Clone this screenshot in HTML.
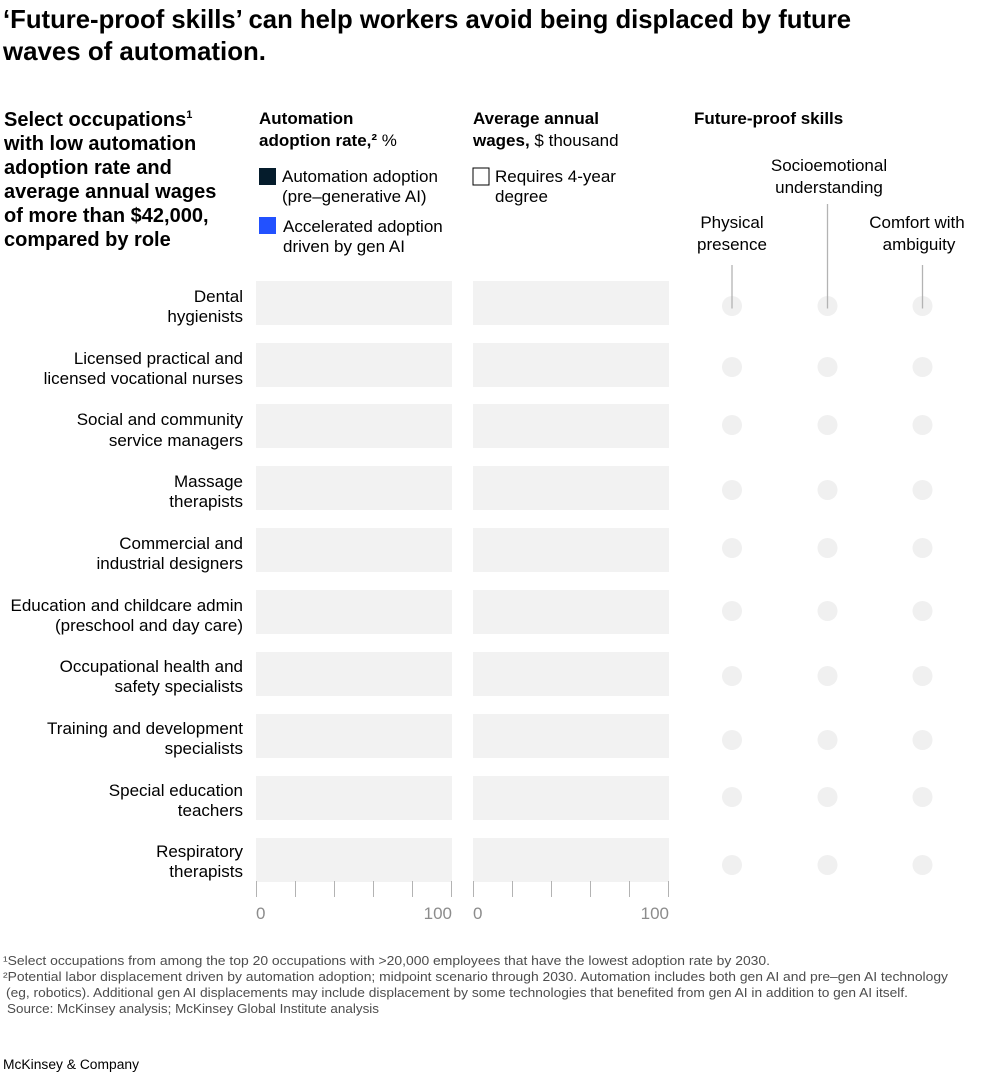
<!DOCTYPE html>
<html>
<head>
<meta charset="utf-8">
<style>
html,body{margin:0;padding:0;background:#fff;}
svg{display:block;}
text{font-family:"Liberation Sans",Arial,sans-serif;}
</style>
</head>
<body>
<svg width="991" height="1080" viewBox="0 0 991 1080" xmlns="http://www.w3.org/2000/svg">
<rect x="0" y="0" width="991" height="1080" fill="#fff"/>

<!-- Title -->
<text x="3" y="28" font-size="26" font-weight="bold" fill="#000" textLength="848" lengthAdjust="spacingAndGlyphs">‘Future-proof skills’ can help workers avoid being displaced by future</text>
<text x="3" y="60" font-size="26" font-weight="bold" fill="#000" textLength="263" lengthAdjust="spacingAndGlyphs">waves of automation.</text>

<!-- Subheading -->
<g font-size="20" font-weight="bold" fill="#000">
<text x="4" y="126">Select occupations<tspan font-size="11" dy="-8">1</tspan></text>
<text x="4" y="150">with low automation</text>
<text x="4" y="174">adoption rate and</text>
<text x="4" y="198">average annual wages</text>
<text x="4" y="222">of more than $42,000,</text>
<text x="4" y="246">compared by role</text>
</g>

<!-- Column headers -->
<g font-size="17" fill="#000">
<text x="259" y="124" font-weight="bold">Automation</text>
<text x="259" y="146"><tspan font-weight="bold">adoption rate,²</tspan> %</text>
<text x="473" y="124" font-weight="bold">Average annual</text>
<text x="473" y="146"><tspan font-weight="bold">wages,</tspan> $ thousand</text>
<text x="694" y="124" font-weight="bold">Future-proof skills</text>
</g>

<!-- Legend -->
<rect x="259" y="168" width="17" height="17" fill="#051c2c"/>
<rect x="259" y="217" width="17" height="17" fill="#2251ff"/>
<rect x="473" y="168" width="16" height="17" fill="#fff" stroke="#000" stroke-width="1"/>
<g font-size="17" fill="#000">
<text x="282" y="182">Automation adoption</text>
<text x="282" y="202">(pre–generative AI)</text>
<text x="283" y="232">Accelerated adoption</text>
<text x="283" y="252">driven by gen AI</text>
<text x="495" y="182">Requires 4-year</text>
<text x="495" y="202">degree</text>
</g>

<!-- Skill labels -->
<g font-size="17" fill="#000" text-anchor="middle">
<text x="829" y="171">Socioemotional</text>
<text x="829" y="193">understanding</text>
<text x="732" y="228">Physical</text>
<text x="732" y="250">presence</text>
<text x="917" y="228">Comfort with</text>
<text x="919" y="250">ambiguity</text>
</g>

<!-- Bars -->
<g fill="#f2f2f2">
<rect x="256" y="281" width="196" height="44"/><rect x="473" y="281" width="196" height="44"/>
<rect x="256" y="343" width="196" height="44"/><rect x="473" y="343" width="196" height="44"/>
<rect x="256" y="404" width="196" height="44"/><rect x="473" y="404" width="196" height="44"/>
<rect x="256" y="466" width="196" height="44"/><rect x="473" y="466" width="196" height="44"/>
<rect x="256" y="528" width="196" height="44"/><rect x="473" y="528" width="196" height="44"/>
<rect x="256" y="590" width="196" height="44"/><rect x="473" y="590" width="196" height="44"/>
<rect x="256" y="652" width="196" height="44"/><rect x="473" y="652" width="196" height="44"/>
<rect x="256" y="714" width="196" height="44"/><rect x="473" y="714" width="196" height="44"/>
<rect x="256" y="776" width="196" height="44"/><rect x="473" y="776" width="196" height="44"/>
<rect x="256" y="838" width="196" height="44"/><rect x="473" y="838" width="196" height="44"/>
</g>

<!-- Circles -->
<g fill="#f0f0f0">
<circle cx="732" cy="306" r="10"/><circle cx="827.5" cy="306" r="10"/><circle cx="922.5" cy="306" r="10"/>
<circle cx="732" cy="367" r="10"/><circle cx="827.5" cy="367" r="10"/><circle cx="922.5" cy="367" r="10"/>
<circle cx="732" cy="425" r="10"/><circle cx="827.5" cy="425" r="10"/><circle cx="922.5" cy="425" r="10"/>
<circle cx="732" cy="490" r="10"/><circle cx="827.5" cy="490" r="10"/><circle cx="922.5" cy="490" r="10"/>
<circle cx="732" cy="548" r="10"/><circle cx="827.5" cy="548" r="10"/><circle cx="922.5" cy="548" r="10"/>
<circle cx="732" cy="611" r="10"/><circle cx="827.5" cy="611" r="10"/><circle cx="922.5" cy="611" r="10"/>
<circle cx="732" cy="676" r="10"/><circle cx="827.5" cy="676" r="10"/><circle cx="922.5" cy="676" r="10"/>
<circle cx="732" cy="740" r="10"/><circle cx="827.5" cy="740" r="10"/><circle cx="922.5" cy="740" r="10"/>
<circle cx="732" cy="797" r="10"/><circle cx="827.5" cy="797" r="10"/><circle cx="922.5" cy="797" r="10"/>
<circle cx="732" cy="865" r="10"/><circle cx="827.5" cy="865" r="10"/><circle cx="922.5" cy="865" r="10"/>
</g>

<!-- Leader lines -->
<g stroke="#b3b3b3" stroke-width="1.3">
<line x1="732" y1="265" x2="732" y2="308.5"/>
<line x1="827.5" y1="204" x2="827.5" y2="308.5"/>
<line x1="922.5" y1="265" x2="922.5" y2="308.5"/>
</g>

<!-- Row labels -->
<g font-size="17" fill="#000" text-anchor="end">
<text x="243" y="302">Dental</text>
<text x="243" y="322">hygienists</text>
<text x="243" y="364">Licensed practical and</text>
<text x="243" y="384">licensed vocational nurses</text>
<text x="243" y="425">Social and community</text>
<text x="243" y="446">service managers</text>
<text x="243" y="487">Massage</text>
<text x="243" y="507">therapists</text>
<text x="243" y="549">Commercial and</text>
<text x="243" y="569">industrial designers</text>
<text x="243" y="611">Education and childcare admin</text>
<text x="243" y="631">(preschool and day care)</text>
<text x="243" y="672">Occupational health and</text>
<text x="243" y="692">safety specialists</text>
<text x="243" y="734">Training and development</text>
<text x="243" y="754">specialists</text>
<text x="243" y="796">Special education</text>
<text x="243" y="816">teachers</text>
<text x="243" y="857">Respiratory</text>
<text x="243" y="877">therapists</text>
</g>

<!-- Axis ticks -->
<g stroke="#b3b3b3" stroke-width="1">
<line x1="256.5" y1="881" x2="256.5" y2="897"/>
<line x1="295.5" y1="881" x2="295.5" y2="897"/>
<line x1="334.5" y1="881" x2="334.5" y2="897"/>
<line x1="373.5" y1="881" x2="373.5" y2="897"/>
<line x1="412.5" y1="881" x2="412.5" y2="897"/>
<line x1="451.5" y1="881" x2="451.5" y2="897"/>
<line x1="473.5" y1="881" x2="473.5" y2="897"/>
<line x1="512.5" y1="881" x2="512.5" y2="897"/>
<line x1="551.5" y1="881" x2="551.5" y2="897"/>
<line x1="590.5" y1="881" x2="590.5" y2="897"/>
<line x1="629.5" y1="881" x2="629.5" y2="897"/>
<line x1="668.5" y1="881" x2="668.5" y2="897"/>
</g>
<g font-size="17" fill="#8c8c8c">
<text x="256" y="919">0</text>
<text x="452" y="919" text-anchor="end">100</text>
<text x="473" y="919">0</text>
<text x="669" y="919" text-anchor="end">100</text>
</g>

<!-- Footnotes -->
<g font-size="13" fill="#4d4d4d">
<text x="3" y="965" textLength="767" lengthAdjust="spacingAndGlyphs">¹Select occupations from among the top 20 occupations with &gt;20,000 employees that have the lowest adoption rate by 2030.</text>
<text x="3" y="981" textLength="945" lengthAdjust="spacingAndGlyphs">²Potential labor displacement driven by automation adoption; midpoint scenario through 2030. Automation includes both gen AI and pre–gen AI technology</text>
<text x="6" y="997" textLength="902" lengthAdjust="spacingAndGlyphs">(eg, robotics). Additional gen AI displacements may include displacement by some technologies that benefited from gen AI in addition to gen AI itself.</text>
<text x="7" y="1013" textLength="372" lengthAdjust="spacingAndGlyphs">Source: McKinsey analysis; McKinsey Global Institute analysis</text>
</g>
<text x="3" y="1069" font-size="13.5" fill="#000" textLength="136" lengthAdjust="spacingAndGlyphs">McKinsey &amp; Company</text>
</svg>
</body>
</html>
